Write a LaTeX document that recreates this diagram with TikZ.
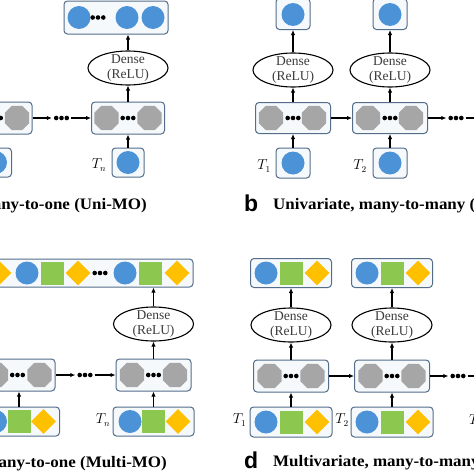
\documentclass[tikz,border=0pt]{standalone}
\usepackage{fontspec}
\setmainfont{Liberation Serif}
\newfontfamily\sansb{Liberation Sans}
\usetikzlibrary{arrows.meta,shapes.geometric}
\definecolor{cblue}{RGB}{76,146,214}
\definecolor{cgreen}{RGB}{140,200,80}
\definecolor{cyellow}{RGB}{255,192,0}
\definecolor{cgray}{RGB}{166,166,166}
\definecolor{cborder}{RGB}{84,110,138}
\definecolor{cfill}{RGB}{246,249,252}
\definecolor{ctext}{RGB}{60,60,60}
\begin{document}
\begin{tikzpicture}[x=1pt,y=-1pt,
  cbox/.style={draw=cborder, fill=cfill, line width=1pt, rounded corners=3.5pt, inner sep=0},
  ell/.style={ellipse, draw=black, line width=1.1pt, minimum width=80pt, minimum height=34pt,
     inner xsep=0pt, inner ysep=-5pt, align=center, text=ctext, font=\fontsize{13.5}{15.5}\selectfont},
  cir/.style={circle, fill=cblue, minimum size=23pt, inner sep=0},
  sqr/.style={rectangle, fill=cgreen, minimum size=23pt, inner sep=0},
  dia/.style={diamond, fill=cyellow, minimum width=25pt, minimum height=25pt, inner sep=0},
  oct/.style={regular polygon, regular polygon sides=8, fill=cgray, minimum size=26.5pt, inner sep=0},
  arr/.style={-{Latex[length=5pt,width=4.5pt]}, line width=1.1pt},
  lin/.style={line width=1.1pt},
  dts/.style={minimum width=19pt, minimum height=6pt, inner sep=0,
     path picture={\fill[black] (path picture bounding box.center) circle[radius=2.3pt]
        +(-5.3pt,0) circle[radius=2.3pt] +(5.3pt,0) circle[radius=2.3pt];}},
  tl/.style={inner sep=0, font=\fontsize{13.5}{15}\selectfont},
  capt/.style={inner sep=0, font=\bfseries\fontsize{16}{18}\selectfont},
  lett/.style={inner sep=0, font=\sansb\bfseries\fontsize{23}{26}\selectfont}
]
\useasboundingbox (0,0) rectangle (474,474);
\fill[white] (0,0) rectangle (474,474);
\clip (0,0) rectangle (474,474);

% ---------------- panel a ----------------
\node[cbox, minimum width=104pt, minimum height=33pt] (outA) at (116,17.5) {};
\node[cir] (oA1) at (79,17.5) {};
\node[dts] (oAd) at (98,17.5) {};
\node[cir] (oA2) at (127,17.5) {};
\node[cir] (oA3) at (153,17.5) {};
\node[ell] (ellA) at (128,68) {Dense\\(ReLU)};
\node[cbox, minimum width=73pt, minimum height=32pt] (hidA) at (128,118) {};
\node[oct] (hA1) at (106.5,118) {};
\node[dts] (hAd) at (128,118) {};
\node[oct] (hA2) at (149.5,118) {};
\node[cbox, minimum width=32pt, minimum height=29pt] (inA) at (128,162.5) {};
\node[cir] (iA) at (128,162.5) {};
\node[cbox, minimum width=73pt, minimum height=32pt] (hidA0) at (-4.5,118) {};
\node[oct] (hA01) at (-26,118) {};
\node[dts] (hA0d) at (-4.5,118) {};
\node[oct] (hA02) at (17,118) {};
\node[cbox, minimum width=32pt, minimum height=29pt] (inA0) at (-4.5,162.5) {};
\node[cir] (iA0) at (-4.5,162.5) {};
\node[dts] (dA) at (61.5,118) {};
\node[tl] (tA) at (99,165) {$T_n$};
\draw[arr] (hidA0) -- (dA);
\draw[arr] (dA) -- (hidA);
\draw[arr] (inA) -- (hidA);
\draw[arr] (hidA) -- (ellA);
\draw[arr] (ellA) -- (ellA |- outA.south);
\node[capt, anchor=base east] (capA) at (147,209) {\scalebox{1.06}[1]{Univariate, many-to-one (Uni-MO)}};

% ---------------- panel b ----------------
\foreach \n/\x in {1/293,2/390}{
  \node[cbox, minimum width=34pt, minimum height=31pt] (outB\n) at (\x,14) {};
  \node[cir] (oB\n) at (\x,14.5) {};
  \node[ell] (ellB\n) at (\x,70) {Dense\\(ReLU)};
  \node[cbox, minimum width=75pt, minimum height=31pt] (hidB\n) at (\x,118) {};
  \node[oct] (hB\n a) at (\x-22,118) {};
  \node[dts] (hB\n d) at (\x,118) {};
  \node[oct] (hB\n b) at (\x+21,118) {};
  \node[cbox, minimum width=34pt, minimum height=30pt] (inB\n) at (\x,163) {};
  \node[cir] (iB\n) at (\x,163) {};
  \draw[arr] (inB\n) -- (hidB\n);
  \draw[arr] (hidB\n) -- (ellB\n);
  \draw[arr] (ellB\n) -- (outB\n);
}
\node[tl] (tB1) at (264,166) {$T_1$};
\node[tl] (tB2) at (360,166) {$T_2$};
\node[dts] (dB) at (456,118) {};
\coordinate (endB) at (482,118);
\draw[arr] (hidB1) -- (hidB2);
\draw[arr] (hidB2) -- (dB);
\draw[lin] (dB) -- (endB);
\node[lett, anchor=base west] (labB) at (244,211) {b};
\node[capt, anchor=base west] (capB) at (273,209) {\scalebox{1.06}[1]{Univariate, many-to-many (Uni-MM)}};

% ---------------- panel c ----------------
\node[cbox, minimum width=263pt, minimum height=28pt] (outC) at (61.5,273) {};
\node[dia] (oC1) at (-1,273) {};
\node[cir] (oC2) at (27,273) {};
\node[sqr] (oC3) at (52,273) {};
\node[dia] (oC4) at (78,273) {};
\node[dts] (oCd) at (100,273) {};
\node[cir] (oC5) at (125,273) {};
\node[sqr] (oC6) at (150,273) {};
\node[dia] (oC7) at (177,273) {};
\node[ell] (ellC) at (153.5,324) {Dense\\(ReLU)};
\node[cbox, minimum width=75pt, minimum height=32pt] (hidC) at (153.5,375) {};
\node[oct] (hC1) at (132,375) {};
\node[dts] (hCd) at (153.5,375) {};
\node[oct] (hC2) at (175,375) {};
\node[cbox, minimum width=81pt, minimum height=29pt] (inC) at (153.5,421.5) {};
\node[cir] (iC1) at (130,421.5) {};
\node[sqr] (iC2) at (153.5,421.5) {};
\node[dia] (iC3) at (178,421.5) {};
\node[cbox, minimum width=75pt, minimum height=32pt] (hidC0) at (17.5,375) {};
\node[oct] (hC01) at (-4,375) {};
\node[dts] (hC0d) at (17.5,375) {};
\node[oct] (hC02) at (39.5,375) {};
\node[cbox, minimum width=81pt, minimum height=29pt] (inC0) at (19,421.5) {};
\node[cir] (iC01) at (-4.5,421.5) {};
\node[sqr] (iC02) at (19,421.5) {};
\node[dia] (iC03) at (43.5,421.5) {};
\node[dts] (dC) at (85,375) {};
\node[tl] (tC) at (103,420) {$T_n$};
\draw[arr] (inC0) -- (inC0 |- hidC0.south);
\draw[arr] (hidC0) -- (dC);
\draw[arr] (dC) -- (hidC);
\draw[arr] (inC) -- (hidC);
\draw[arr] (hidC) -- (ellC);
\draw[arr] (ellC) -- (ellC |- outC.south);
\node[capt, anchor=base east] (capC) at (167,467) {\scalebox{1.06}[1]{Multivariate, many-to-one (Multi-MO)}};

% ---------------- panel d ----------------
\foreach \n/\x in {1/291,2/392}{
  \node[cbox, minimum width=81pt, minimum height=29pt] (outD\n) at (\x,273) {};
  \node[cir] (oD\n a) at (\x-25,273) {};
  \node[sqr] (oD\n b) at (\x,273) {};
  \node[dia] (oD\n c) at (\x+26,273) {};
  \node[ell] (ellD\n) at (\x,325) {Dense\\(ReLU)};
  \node[cbox, minimum width=75pt, minimum height=32pt] (hidD\n) at (\x,376) {};
  \node[oct] (hD\n a) at (\x-21.5,376) {};
  \node[dts] (hD\n d) at (\x,376) {};
  \node[oct] (hD\n b) at (\x+21.5,376) {};
  \node[cbox, minimum width=82pt, minimum height=30pt] (inD\n) at (\x,422) {};
  \node[cir] (iD\n a) at (\x-25,422) {};
  \node[sqr] (iD\n b) at (\x,422) {};
  \node[dia] (iD\n c) at (\x+26,422) {};
  \draw[arr] (inD\n) -- (hidD\n);
  \draw[arr] (hidD\n) -- (ellD\n);
  \draw[arr] (ellD\n) -- (outD\n);
}
\node[tl] (tD1) at (239.5,420) {$T_1$};
\node[tl] (tD2) at (342,420) {$T_2$};
\node[tl, anchor=west] (tDn) at (469,421) {$T_n$};
\node[dts] (dD) at (458,376) {};
\coordinate (endD) at (482,376);
\draw[arr] (hidD1) -- (hidD2);
\draw[arr] (hidD2) -- (dD);
\draw[lin] (dD) -- (endD);
\node[lett, anchor=base west] (labD) at (244,468) {d};
\node[capt, anchor=base west] (capD) at (273,466.5) {\scalebox{1.06}[1]{Multivariate, many-to-many (Multi-MM)}};
\end{tikzpicture}
\end{document}
